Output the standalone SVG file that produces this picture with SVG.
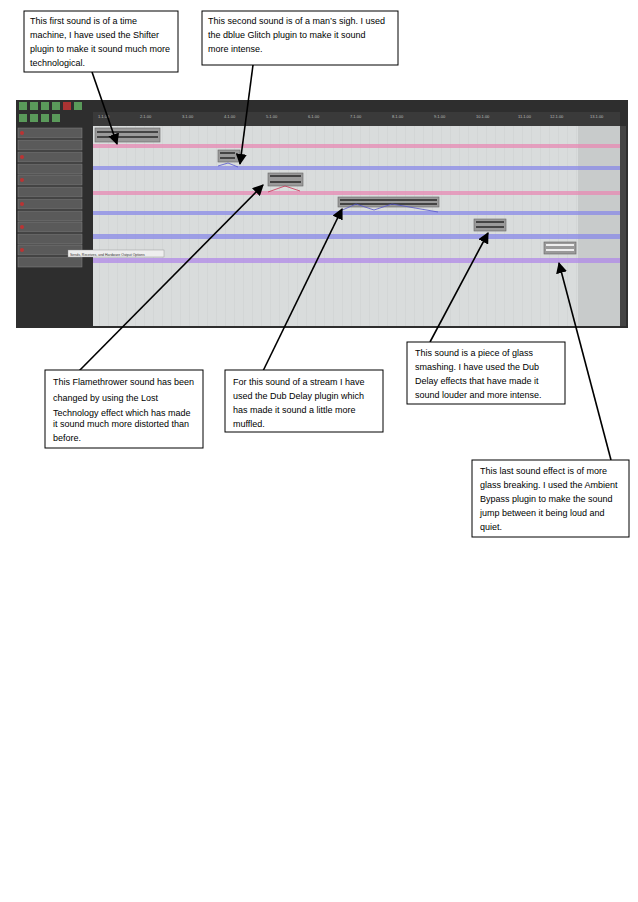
<svg xmlns="http://www.w3.org/2000/svg" width="638" height="902" viewBox="0 0 638 902">
<defs>
<style>
.box{fill:#fff;stroke:#000;stroke-width:1}
.t{font-family:"Liberation Sans",Arial,sans-serif;font-size:9px;fill:#000}
.c{stroke:#000;stroke-width:1.6;fill:none;marker-end:url(#ah)}
.trk{fill:#5a5a5a;stroke:#888;stroke-width:0.5}
.clip{fill:#9a9a9a;stroke:#666;stroke-width:0.6}
.wave{stroke:#444;stroke-width:2}
</style>
<marker id="ah" viewBox="0 0 10 10" refX="9" refY="5" markerWidth="7" markerHeight="7" orient="auto"><path d="M0,0 L10,5 L0,10 z" fill="#000"/></marker>
<pattern id="grid" width="9" height="10" patternUnits="userSpaceOnUse"><rect width="9" height="10" fill="#d9dcdc"/><line x1="0" y1="0" x2="0" y2="10" stroke="#c4c8c8" stroke-width="0.6"/></pattern>
</defs>
<rect width="638" height="902" fill="#fff"/>
<g id="screenshot">
<rect x="16" y="100" width="612" height="228" fill="#2e2e2e"/>
<rect x="93" y="112" width="527" height="14" fill="#3a3a3a"/>
<rect x="93" y="126" width="527" height="200" fill="url(#grid)"/>
<rect x="578" y="126" width="42" height="200" fill="#c8cbcb"/>
<rect x="620" y="126" width="6" height="200" fill="#444"/>
<g fill="#5a9a5a"><rect x="19" y="102" width="8" height="8"/><rect x="30" y="102" width="8" height="8"/><rect x="41" y="102" width="8" height="8"/><rect x="52" y="102" width="8" height="8"/><rect x="63" y="102" width="8" height="8" fill="#a33"/><rect x="74" y="102" width="8" height="8"/><rect x="19" y="114" width="8" height="8"/><rect x="30" y="114" width="8" height="8"/><rect x="41" y="114" width="8" height="8"/><rect x="52" y="114" width="8" height="8"/></g>
<g fill="#bbb" font-family="Liberation Sans,sans-serif" font-size="4">
<text x="98" y="118">1.1.00</text><text x="140" y="118">2.1.00</text><text x="182" y="118">3.1.00</text><text x="224" y="118">4.1.00</text><text x="266" y="118">5.1.00</text><text x="308" y="118">6.1.00</text><text x="350" y="118">7.1.00</text><text x="392" y="118">8.1.00</text><text x="434" y="118">9.1.00</text><text x="476" y="118">10.1.00</text><text x="518" y="118">11.1.00</text><text x="550" y="118">12.1.00</text><text x="590" y="118">13.1.00</text>
</g>
<g>
<rect class="trk" x="18" y="128" width="64" height="10"/><rect class="trk" x="18" y="140" width="64" height="10" fill="#444"/>
<rect class="trk" x="18" y="152" width="64" height="10"/><rect class="trk" x="18" y="164" width="64" height="10" fill="#444"/>
<rect class="trk" x="18" y="175" width="64" height="10"/><rect class="trk" x="18" y="187" width="64" height="10" fill="#444"/>
<rect class="trk" x="18" y="199" width="64" height="10"/><rect class="trk" x="18" y="211" width="64" height="10" fill="#444"/>
<rect class="trk" x="18" y="222" width="64" height="10"/><rect class="trk" x="18" y="234" width="64" height="10" fill="#444"/>
<rect class="trk" x="18" y="245" width="64" height="10"/><rect class="trk" x="18" y="257" width="64" height="10" fill="#444"/>
<g fill="#b33"><circle cx="22" cy="133" r="2"/><circle cx="22" cy="157" r="2"/><circle cx="22" cy="180" r="2"/><circle cx="22" cy="204" r="2"/><circle cx="22" cy="227" r="2"/><circle cx="22" cy="250" r="2"/></g>
<rect x="68" y="250" width="96" height="7" fill="#eee" stroke="#888" stroke-width="0.4"/>
<text x="70" y="255.5" font-family="Liberation Sans,sans-serif" font-size="3.5" fill="#333">Sends, Receives, and Hardware Output Options</text>
</g>
<g opacity="0.75">
<rect x="93" y="144" width="527" height="4" fill="#e88ab4"/>
<rect x="93" y="166" width="527" height="4" fill="#8a8ae8"/>
<rect x="93" y="191" width="527" height="4" fill="#e88ab4"/>
<rect x="93" y="211" width="527" height="4" fill="#8a8ae8"/>
<rect x="93" y="234" width="527" height="5" fill="#8a8ae8"/>
<rect x="93" y="258" width="527" height="5" fill="#b08ae8"/>
</g>
<g>
<rect class="clip" x="95" y="128" width="65" height="14"/><line class="wave" x1="97" y1="132" x2="158" y2="132"/><line class="wave" x1="97" y1="137" x2="158" y2="137"/>
<rect class="clip" x="218" y="150" width="22" height="12"/><line class="wave" x1="220" y1="153" x2="235" y2="153"/><line class="wave" x1="220" y1="158" x2="235" y2="158"/>
<rect class="clip" x="268" y="173" width="35" height="13"/><line class="wave" x1="270" y1="176" x2="301" y2="176"/><line class="wave" x1="270" y1="182" x2="301" y2="182"/>
<rect class="clip" x="338" y="197" width="101" height="10"/><line class="wave" x1="340" y1="200" x2="437" y2="200" stroke-width="1"/><line class="wave" x1="340" y1="204" x2="437" y2="204" stroke-width="1"/>
<rect class="clip" x="474" y="219" width="32" height="12"/><line class="wave" x1="476" y1="222" x2="504" y2="222"/><line class="wave" x1="476" y1="227" x2="504" y2="227"/>
<rect class="clip" x="544" y="242" width="32" height="12" fill="#777"/><line x1="546" y1="245" x2="574" y2="245" stroke="#eee" stroke-width="2"/><line x1="546" y1="250" x2="574" y2="250" stroke="#eee" stroke-width="2"/>
<polyline points="338,212 356,204 374,210 392,204 438,212" fill="none" stroke="#55c" stroke-width="0.8"/>
<polyline points="268,192 285,186 300,191" fill="none" stroke="#c35" stroke-width="0.8"/>
<polyline points="218,166 228,163 238,167" fill="none" stroke="#55c" stroke-width="0.8"/>
</g>
</g>
<g id="connectors">
<line class="c" x1="92" y1="72" x2="117" y2="144"/>
<line class="c" x1="253" y1="65" x2="240" y2="164"/>
<line class="c" x1="78" y1="372" x2="263" y2="185"/>
<line class="c" x1="263" y1="371" x2="342" y2="209"/>
<line class="c" x1="430" y1="342" x2="488" y2="233"/>
<line class="c" x1="611" y1="460" x2="559" y2="263"/>
</g>
<g id="n1"><rect class="box" x="24" y="11" width="154" height="61"/>
<text class="t" x="30" y="24">This first sound is of a time</text><text class="t" x="30" y="38">machine, I have used the Shifter</text><text class="t" x="30" y="52">plugin to make it sound much more</text><text class="t" x="30" y="66">technological.</text></g>
<g id="n2"><rect class="box" x="202" y="11" width="196" height="54"/>
<text class="t" x="208" y="24">This second sound is of a man’s sigh. I used</text><text class="t" x="208" y="38">the dblue Glitch plugin to make it sound</text><text class="t" x="208" y="52">more intense.</text></g>
<g id="n3"><rect class="box" x="45" y="370" width="158" height="78"/>
<text class="t" x="53" y="385">This Flamethrower sound has been</text><text class="t" x="53" y="401">changed by using the Lost</text><text class="t" x="53" y="416">Technology effect which has made</text><text class="t" x="53" y="427">it sound much more distorted than</text><text class="t" x="53" y="441">before.</text></g>
<g id="n4"><rect class="box" x="225" y="370" width="158" height="62"/>
<text class="t" x="233" y="385">For this sound of a stream I have</text><text class="t" x="233" y="399">used the Dub Delay plugin which</text><text class="t" x="233" y="413">has made it sound a little more</text><text class="t" x="233" y="427">muffled.</text></g>
<g id="n5"><rect class="box" x="407" y="342" width="158" height="62"/>
<text class="t" x="415" y="356">This sound is a piece of glass</text><text class="t" x="415" y="370">smashing. I have used the Dub</text><text class="t" x="415" y="384">Delay effects that have made it</text><text class="t" x="415" y="398">sound louder and more intense.</text></g>
<g id="n6"><rect class="box" x="472" y="460" width="157" height="77"/>
<text class="t" x="480" y="474">This last sound effect is of more</text><text class="t" x="480" y="488">glass breaking. I used the Ambient</text><text class="t" x="480" y="502">Bypass plugin to make the sound</text><text class="t" x="480" y="516">jump between it being loud and</text><text class="t" x="480" y="530">quiet.</text></g>
</svg>
